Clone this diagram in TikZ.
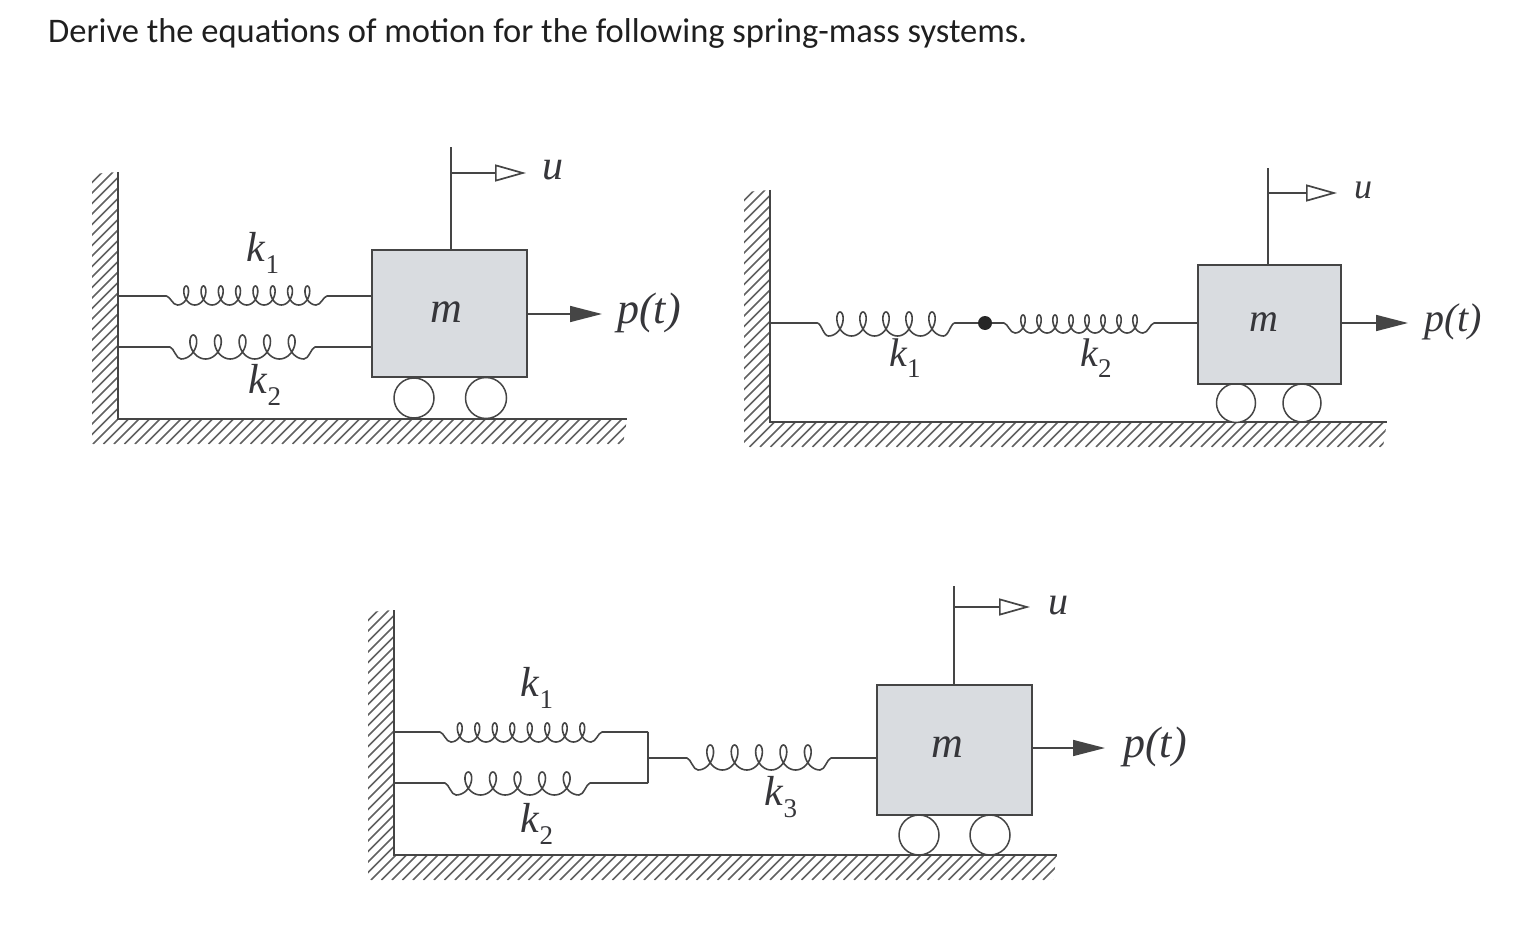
\documentclass[tikz,border=0pt]{standalone}
\usepackage{fontspec}
\usetikzlibrary{arrows.meta}
\newfontfamily\titlefont{Carlito}
\newfontfamily\labfont{Liberation Serif}
\definecolor{ink}{HTML}{454545}
\definecolor{txt}{HTML}{36363A}
\definecolor{massfill}{HTML}{D9DCE0}
\tikzset{
  wire/.style={draw=ink,line width=1.6pt},
  frameline/.style={draw=ink,line width=1.9pt},
  hatchline/.style={draw=ink!85,line width=1.5pt},
  massbox/.style={draw=ink,line width=2pt,fill=massfill,inner sep=0pt},
  wheel/.style={draw=ink,line width=1.5pt,fill=white,circle,inner sep=0pt},
  joint/.style={fill=black!85,circle,inner sep=0pt,minimum size=14pt},
  lab/.style={text=txt,inner sep=0pt,font=\labfont\itshape\fontsize{#1}{#1}\selectfont},
  uarrow/.style={wire,-{Triangle[open,length=31pt,width=17pt,line width=1.7pt]}},
  parrow/.style={wire,-{Triangle[length=32pt,width=16pt]}},
}
\newcommand{\ksub}[2]{#1\raisebox{-.28em}{\fontsize{27}{27}\selectfont\upshape #2}}
% A, B, y, first trough x, last trough x, loops, depth, rise
\newcommand{\spring}[8]{%
  \pgfmathsetmacro{\dom}{360*#6}%
  \pgfmathtruncatemacro{\smp}{36*#6+1}%
  \draw[wire,line join=round] (#1) -- ({#4-11},#3)
    .. controls ({#4-7},{#3+1}) and ({#4-5},{#3+#7}) .. (#4,{#3+#7})
    -- plot[variable=\t,domain=0:\dom,samples=\smp]
      ({#4+\t/\dom*(#5-#4)+2.2*(#5-#4)/(6.2832*#6)*sin(\t)},{#3+#7-(#7+#8)*(1-cos(\t))/2})
    -- (#5,{#3+#7})
    .. controls ({#5+5},{#3+#7}) and ({#5+7},{#3+1}) .. ({#5+11},#3)
    -- (#2);}
% wall x, top y, ground y, ground end x
\newcommand{\support}[4]{%
  \begin{scope}
    \clip ({#1-26},{#2+2}) -- (#1,#2) -- (#1,#3) -- (#4,#3) -- ({#4-4},{#3+25}) -- ({#1-26},{#3+25}) -- cycle;
    \foreach \s in {0,10.5,...,1050}
      \draw[hatchline] ({#1-26-(#3+25-#2)+\s},{#3+25}) -- ++({#3+25-#2},{-(#3+25-#2)});
  \end{scope}
  \draw[frameline] (#1,#2) -- (#1,#3) -- (#4,#3);}
\begin{document}
\begin{tikzpicture}[x=1pt,y=-1pt]
\useasboundingbox (0,0) rectangle (1536,936);
\node[anchor=base west,inner sep=0pt,text=black!88,font=\titlefont\fontsize{34.5}{34.5}\selectfont] (title) at (48,43) {Derive the equations of motion for the following spring-mass systems.};

% ---------- system 1
\support{118}{172}{419}{627}
\node[wheel,minimum size=40pt] (w1a) at (414,398) {};
\node[wheel,minimum size=41pt] (w1b) at (486,398) {};
\node[massbox,minimum width=155pt,minimum height=127pt] (m1) at (449.5,313.5) {};
\node[lab=44] (m1t) at (446,312) {m};
\coordinate (s1a) at (118,296); \coordinate (s1b) at (372,296);
\coordinate (s1c) at (118,347); \coordinate (s1d) at (372,347);
\spring{s1a}{s1b}{296}{177.5}{316}{8}{9}{10}
\spring{s1c}{s1d}{347}{181}{304}{5}{12}{12}
\node[lab=42] (k1a) at (263,253) {\ksub{k}{1}};
\node[lab=42] (k1b) at (265,385) {\ksub{k}{2}};
\coordinate (u1top) at (451,147); \coordinate (u1base) at (451,250);
\draw[wire] (u1base) -- (u1top);
\coordinate (u1s) at (451,173); \coordinate (u1e) at (526,173);
\draw[uarrow] (u1s) -- (u1e);
\node[lab=42] (u1) at (553,170) {u};
\coordinate (p1s) at (527,314); \coordinate (p1e) at (602,314);
\draw[parrow] (p1s) -- (p1e);
\node[lab=44] (p1) at (649,313) {p(t)};

% ---------- system 2
\support{770}{190}{422}{1387}
\node[wheel,minimum size=39pt] (w2a) at (1236,403) {};
\node[wheel,minimum size=38pt] (w2b) at (1302,403) {};
\node[massbox,minimum width=143pt,minimum height=119pt] (m2) at (1269.5,324.5) {};
\node[lab=40] (m2t) at (1264,322) {m};
\coordinate (s2a) at (770,323); \coordinate (s2b) at (1198,323);
\node[joint] (d2) at (985,323) {};
\spring{s2a}{d2}{323}{828.5}{943.5}{5}{13}{11}
\spring{d2}{s2b}{323}{1015}{1143}{8}{10}{8}
\node[lab=40] (k2a) at (905,358) {\ksub{k}{1}};
\node[lab=40] (k2b) at (1096,358) {\ksub{k}{2}};
\coordinate (u2top) at (1268,168); \coordinate (u2base) at (1268,265);
\draw[wire] (u2base) -- (u2top);
\coordinate (u2s) at (1268,193); \coordinate (u2e) at (1337,193);
\draw[uarrow] (u2s) -- (u2e);
\node[lab=36] (u2) at (1363,190) {u};
\coordinate (p2s) at (1341,323); \coordinate (p2e) at (1408,323);
\draw[parrow] (p2s) -- (p2e);
\node[lab=40] (p2) at (1453,322) {p(t)};

% ---------- system 3
\support{394}{610}{855}{1057}
\node[wheel,minimum size=40pt] (w3a) at (919,835) {};
\node[wheel,minimum size=40pt] (w3b) at (990,835) {};
\node[massbox,minimum width=155pt,minimum height=130pt] (m3) at (954.5,750) {};
\node[lab=44] (m3t) at (947,747) {m};
\coordinate (s3a) at (394,732); \coordinate (s3b) at (648,732);
\coordinate (s3c) at (394,783); \coordinate (s3d) at (648,783);
\coordinate (s3e) at (648,758); \coordinate (s3f) at (877,758);
\spring{s3a}{s3b}{732}{451}{591}{8}{10}{9}
\spring{s3c}{s3d}{783}{456}{579}{5}{12}{11}
\draw[wire] (s3b) -- (s3d);
\spring{s3e}{s3f}{758}{698}{820}{5}{12}{13}
\node[lab=42] (k3a) at (537,688) {\ksub{k}{1}};
\node[lab=42] (k3b) at (537,824) {\ksub{k}{2}};
\node[lab=42] (k3c) at (781,797) {\ksub{k}{3}};
\coordinate (u3top) at (954,586); \coordinate (u3base) at (954,685);
\draw[wire] (u3base) -- (u3top);
\coordinate (u3s) at (954,607); \coordinate (u3e) at (1030,607);
\draw[uarrow] (u3s) -- (u3e);
\node[lab=40] (u3) at (1058,606) {u};
\coordinate (p3s) at (1032,748); \coordinate (p3e) at (1105,748);
\draw[parrow] (p3s) -- (p3e);
\node[lab=44] (p3) at (1155,747) {p(t)};
\end{tikzpicture}
\end{document}
